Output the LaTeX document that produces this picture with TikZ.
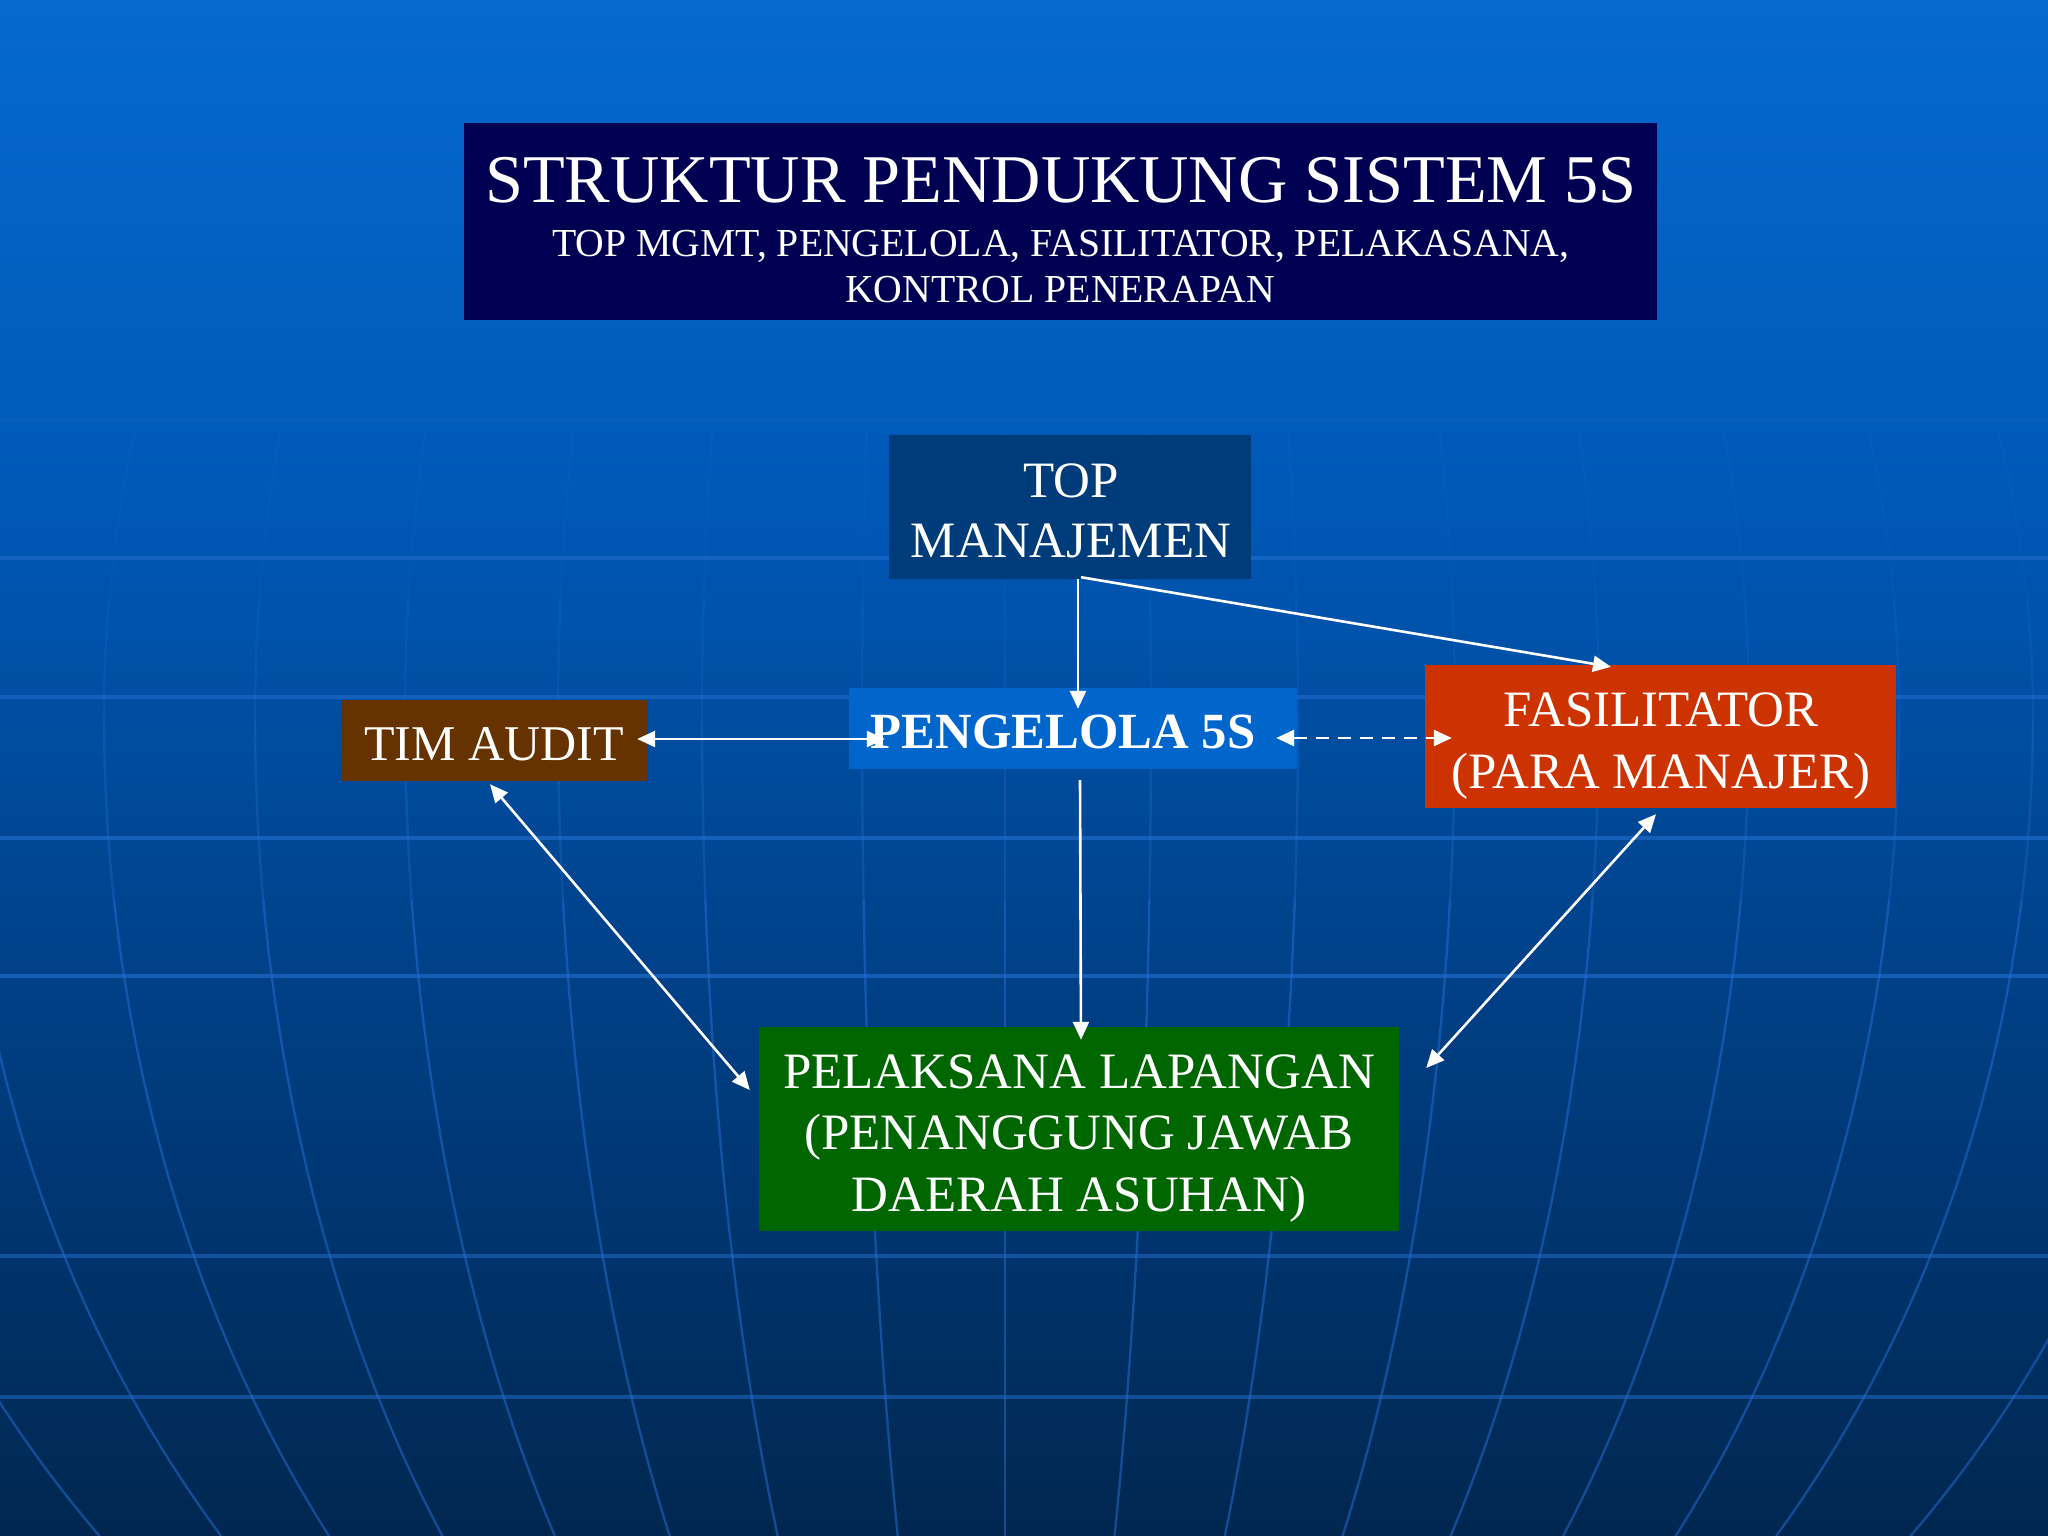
\documentclass[tikz,border=0pt]{standalone}
\usepackage{fontspec}
\setmainfont{Liberation Serif}
\usetikzlibrary{arrows.meta,calc}
\definecolor{titlebg}{RGB}{0,0,82}
\definecolor{topbg}{RGB}{0,60,122}
\definecolor{penbg}{RGB}{0,102,204}
\definecolor{audbg}{RGB}{102,51,0}
\definecolor{fasbg}{RGB}{204,51,0}
\definecolor{pelbg}{RGB}{0,102,0}
\definecolor{gridc}{RGB}{35,112,210}
\definecolor{cA}{RGB}{5,105,206}
\definecolor{cB}{RGB}{0,88,182}
\definecolor{cC}{RGB}{0,64,135}
\definecolor{cD}{RGB}{0,51,107}
\definecolor{cE}{RGB}{1,39,80}
\pgfdeclareverticalshading{bgshade}{100bp}{color(0bp)=(cE); color(25bp)=(cE); color(34bp)=(cD); color(43bp)=(cC); color(58.5bp)=(cB); color(75bp)=(cA); color(100bp)=(cA)}
\tikzset{
  boxshape/.style={inner sep=0pt, draw=none},
  txt/.style={anchor=base, inner sep=0pt, text=white, font=\fontsize{51}{61}\selectfont},
  gridline/.style={draw=gridc, line width=3.2pt},
  meridian/.style={draw=gridc, line width=2.4pt},
  arr/.style={draw=white, line width=2.6pt, -{Triangle[length=18pt,width=16pt]}},
  biarr/.style={draw=white, line width=2.6pt, {Triangle[length=18pt,width=16pt]}-{Triangle[length=18pt,width=16pt]}},
  dasharr/.style={biarr, dash pattern=on 13pt off 9pt}
}
\begin{document}
\begin{tikzpicture}[x=1pt,y=-1pt]
\useasboundingbox (0,0) rectangle (2048,1536);
\shade[shading=bgshade] (0,0) rectangle (2048,1536);
% grid
\draw[gridline, opacity=0.15] (0,420) -- (2048,420);
\foreach \yy in {558,697} \draw[gridline, opacity=0.55] (0,\yy) -- (2048,\yy);
\foreach \yy in {838,976} \draw[gridline, opacity=0.6] (0,\yy) -- (2048,\yy);
\foreach \yy in {1256,1397} \draw[gridline, opacity=0.5] (0,\yy) -- (2048,\yy);
\foreach \dd in {-1207,-1045,-901,-750,-600,-447,-303,-143,0,146,293,450,594,744,894,1028,1207} {
  \draw[meridian, opacity=0.1] plot[domain=430:600,samples=12] ({1005+(\dd)*sqrt(1-((716-\x)/1100)^2)},\x);
  \draw[meridian, opacity=0.22] plot[domain=600:716,samples=8] ({1005+(\dd)*sqrt(1-((716-\x)/1100)^2)},\x);
  \draw[meridian, opacity=0.32] plot[domain=716:900,samples=12] ({1005+(\dd)*sqrt(1-((\x-716)/1240)^2)},\x);
  \draw[meridian, opacity=0.5] plot[domain=900:1536,samples=36] ({1005+(\dd)*sqrt(1-((\x-716)/1240)^2)},\x);
}
% title
\node[boxshape, fill=titlebg, minimum width=1193pt, minimum height=197pt] (title) at (1060.5,221.5) {};
\node[txt, font=\fontsize{68.3}{68}\selectfont] (t1) at (1061,202) {STRUKTUR PENDUKUNG SISTEM 5S};
\node[txt, font=\fontsize{39.7}{39}\selectfont] (t2) at (1061,256) {TOP MGMT, PENGELOLA, FASILITATOR, PELAKASANA,};
\node[txt, font=\fontsize{39.7}{39}\selectfont] (t3) at (1060,302) {KONTROL PENERAPAN};
% boxes
\node[boxshape, fill=topbg, minimum width=362pt, minimum height=144pt] (top) at (1070,507) {};
\node[boxshape, fill=penbg, minimum width=448pt, minimum height=81pt] (pen) at (1073,728.5) {};
\node[boxshape, fill=audbg, minimum width=307pt, minimum height=81pt] (tim) at (494.5,740.5) {};
\node[boxshape, fill=fasbg, minimum width=471pt, minimum height=143pt] (fas) at (1660.5,736.5) {};
\node[boxshape, fill=pelbg, minimum width=640pt, minimum height=204pt] (pel) at (1079,1129) {};
% texts
\node[txt] (top1) at (1071,497) {TOP};
\node[txt] (top2) at (1071,557) {MANAJEMEN};
\node[txt, font=\bfseries\fontsize{50.7}{60}\selectfont] (pen1) at (1063,748) {PENGELOLA 5S};
\node[txt, font=\fontsize{50}{60}\selectfont] (tim1) at (494,760) {TIM AUDIT};
\node[txt] (fas1) at (1661,726) {FASILITATOR};
\node[txt] (fas2) at (1661,788) {(PARA MANAJER)};
\node[txt] (pel1) at (1079,1088) {PELAKSANA LAPANGAN};
\node[txt] (pel2) at (1079,1149) {(PENANGGUNG JAWAB};
\node[txt] (pel3) at (1079,1211) {DAERAH ASUHAN)};
% connectors
\draw[arr] ($(top.south)+(8,0)$) -- ($(pen.north)+(5,21)$);
\draw[arr] ($(top.south)+(11,-2)$) -- ($(fas.north)+(-49.5,2)$);
\draw[biarr] ($(tim.east)+(-11,-1.5)$) -- ($(pen.west)+(36,10.5)$);
\draw[dasharr] ($(pen.east)+(-21,9.5)$) -- ($(fas.west)+(27,1.5)$);
\draw[arr] ($(pen.south)+(7,11)$) -- ($(pel.north)+(2,13)$);
\draw[biarr] ($(tim.south)+(-4.5,3)$) -- ($(pel.west)+(-9,-39)$);
\draw[biarr] ($(fas.south)+(-4.5,6)$) -- ($(pel.east)+(27,-61)$);
\end{tikzpicture}
\end{document}
